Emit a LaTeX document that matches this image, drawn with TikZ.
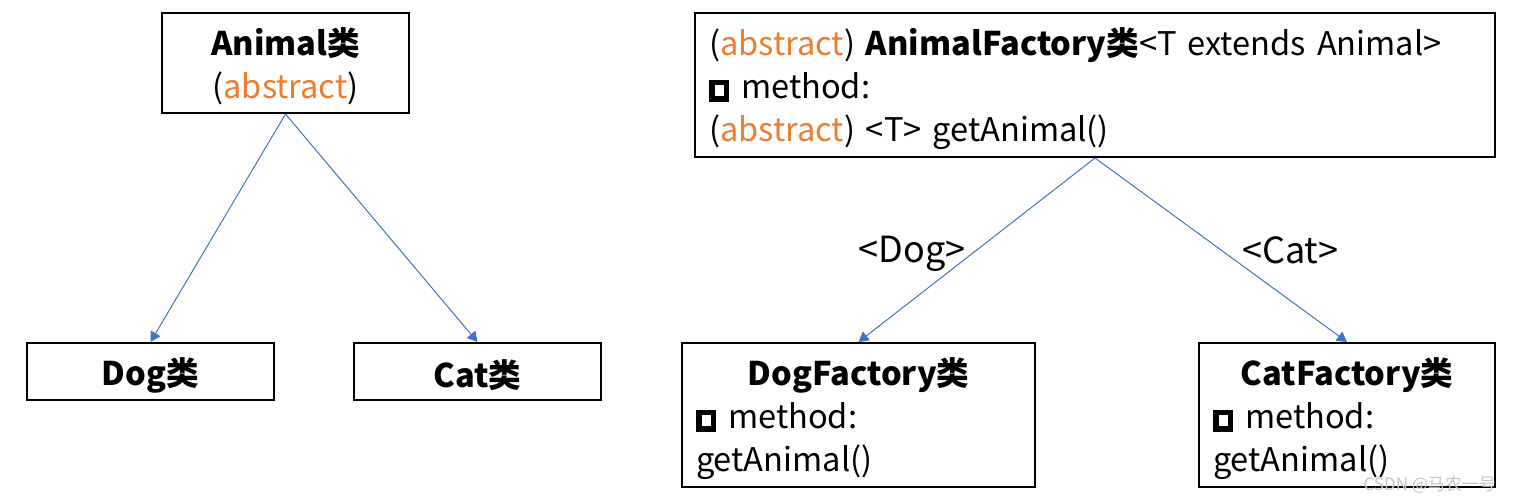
\documentclass[tikz,border=0pt]{standalone}
\usepackage{fontspec}
\setmainfont{Noto Sans CJK SC}
\usetikzlibrary{positioning,arrows.meta}
\definecolor{linkBlue}{HTML}{4472C4}
\definecolor{absOrange}{HTML}{ED7D31}
\newcommand{\absTag}{(\textcolor{absOrange}{abstract})}
\newcommand{\methodBox}{\raisebox{1pt}{\setlength{\fboxrule}{2.8pt}\setlength{\fboxsep}{0pt}\fbox{\rule{0pt}{5.5pt}\hspace{4.5pt}}}\hspace{6pt}}
\newcommand{\topStrut}{\rule{0pt}{17.5pt}}

\begin{document}
\begin{tikzpicture}[
    x=0.5pt, y=-0.5pt,
    font=\fontsize{16.3pt}{21.5pt}\selectfont,
    classBox/.style={draw=black, fill=white, line width=1pt, anchor=north west, align=center, inner xsep=7pt, inner ysep=0pt},
    linkArrow/.style={-{Triangle[length=5pt,width=5.5pt]}, draw=linkBlue, line width=0.5pt},
    linkLabel/.style={font=\fontsize{18pt}{21.5pt}\selectfont}
]
    \path[fill=white] (0,0) rectangle (1518,502);

    % Gerarchia Animal
    \node[classBox, minimum width=123.5pt, minimum height=50pt] (animal) at (161,12) {\topStrut\textbf{Animal类}\\\absTag};
    \node[classBox, minimum width=123.5pt, minimum height=28.5pt] (dog) at (26,342) {\topStrut\textbf{Dog类}};
    \node[classBox, minimum width=123.5pt, minimum height=28.5pt] (cat) at (353,342) {\topStrut\textbf{Cat类}};

    % Gerarchia Factory
    \node[classBox, align=left, text width=386pt, minimum height=72pt] (animalFactory) at (694,12) {
        \topStrut\absTag{} \textbf{AnimalFactory类}<T extends Animal>\\
        \methodBox method:\\
        \absTag{} <T> getAnimal()
    };
    \node[classBox, align=left, text width=162.5pt, minimum height=72pt] (dogFactory) at (681,342) {
        \topStrut\makebox[\linewidth]{\textbf{DogFactory类}}\\
        \methodBox method:\\
        getAnimal()
    };
    \node[classBox, align=left, text width=134pt, minimum height=72pt] (catFactory) at (1198,342) {
        \topStrut\makebox[\linewidth]{\textbf{CatFactory类}}\\
        \methodBox method:\\
        getAnimal()
    };

    \draw[linkArrow] (animal.south) -- (dog.north);
    \draw[linkArrow] (animal.south) -- (cat.north);
    \draw[linkArrow] (animalFactory.south) -- node[midway, left=2pt, linkLabel, yshift=-2pt] (dogLabel) {<Dog>} (dogFactory.north);
    \draw[linkArrow] (animalFactory.south) -- node[midway, right=7pt, linkLabel] (catLabel) {<Cat>} (catFactory.north);

    \node[anchor=east, text=gray!45, font=\fontsize{8.5pt}{9pt}\selectfont] (mark) at (1503,485) {CSDN @马农一号};
\end{tikzpicture}
\end{document}
